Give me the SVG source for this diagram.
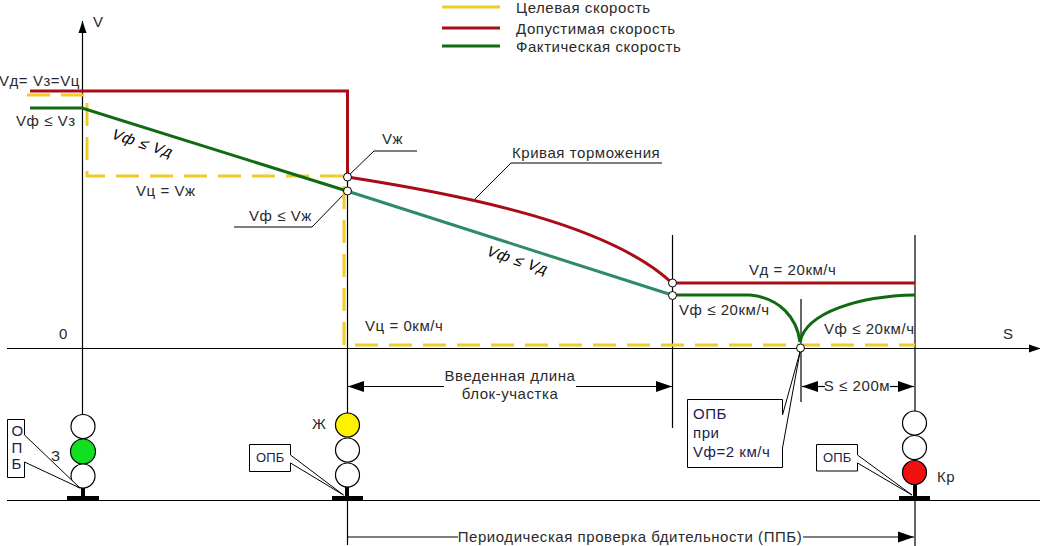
<svg xmlns="http://www.w3.org/2000/svg" width="1040" height="546" viewBox="0 0 1040 546">
<style>
text{font-family:"Liberation Sans",Arial,sans-serif;font-size:15px;letter-spacing:.55px;fill:#2a2a2a}
.b{fill:#1c1c50}
.sm{font-size:13px;letter-spacing:.2px}
.i{fill:#000;letter-spacing:.8px}
.l{fill:none;stroke:#000;stroke-width:1.2}
.t{fill:none;stroke:#000;stroke-width:1}
.red{fill:none;stroke:#a80d16;stroke-width:3}
.gr{fill:none;stroke:#0f6a12;stroke-width:3}
.teal{fill:none;stroke:#2f8a68;stroke-width:3}
.ye{fill:none;stroke:#f0cc28;stroke-width:3;stroke-dasharray:23 11}
.lamp{stroke:#000;stroke-width:1.2;fill:#fff}
.dot{stroke:#000;stroke-width:1;fill:#fff}
.box{stroke:#000;stroke-width:1;fill:#fff}
</style>
<defs>
<marker id="a" markerUnits="userSpaceOnUse" markerWidth="17" markerHeight="12" refX="16" refY="6" orient="auto"><path d="M0 .5L16 6L0 11.500Z" fill="#000"/></marker>
<marker id="s" markerUnits="userSpaceOnUse" markerWidth="13" markerHeight="10" refX="12" refY="5" orient="auto"><path d="M0 1L12 5L0 9Z" fill="#000"/></marker>
</defs>
<rect width="1040" height="546" fill="#fff"/>
<g id="connectors">
<path class="l" d="M82.500 414V21" marker-end="url(#s)"/>
<path class="l" d="M7 348.500H1041" marker-end="url(#s)"/>
<path class="l" d="M7 500.500H1040"/>
<path class="l" d="M347.500 177V414M347.500 500V545"/>
<path class="l" d="M672.500 235V428"/>
<path class="l" d="M915 235V411M915 500V546"/>
<path class="l" d="M801 299V402"/>
<path class="l" d="M444 386.500H348" marker-end="url(#a)"/>
<path class="l" d="M576 386.500H672" marker-end="url(#a)"/>
<path class="l" d="M825 386.500H802" marker-end="url(#a)"/>
<path class="l" d="M890 386.500H914" marker-end="url(#a)"/>
<path class="l" d="M347.500 537H458"/>
<path class="l" d="M803 537H914" marker-end="url(#a)"/>
<path class="t" d="M347 177L374 151H417"/>
<path class="t" d="M475 199L511 163H662"/>
<path class="t" d="M347 191L312 227H234"/>
<path class="ye" d="M27 95H87V176H344V345H915"/>
<path class="red" d="M30 91H347.500V177C470 196 610 225 672 283H915"/>
<path class="gr" d="M30 108H82L347 191"/>
<path class="teal" d="M347 191L672 295"/>
<path class="gr" d="M672 295H750C780 298 797 318 800 342C806 312 860 296 915 295"/>
</g>
<g id="legend">
<path d="M442 7H500" fill="none" stroke="#f0cc28" stroke-width="3"/>
<path d="M442 28H500" class="red"/>
<path d="M442 46H500" class="gr"/>
<text x="516" y="13">Целевая скорость</text>
<text x="516" y="34">Допустимая скорость</text>
<text x="516" y="52">Фактическая скорость</text>
</g>
<g id="markers">
<circle class="dot" cx="347.500" cy="177" r="4"/>
<circle class="dot" cx="347.500" cy="191" r="4"/>
<circle class="dot" cx="672.500" cy="283" r="4"/>
<circle class="dot" cx="672.500" cy="295.500" r="4"/>
<circle class="dot" cx="800.500" cy="348" r="4"/>
</g>
<g id="labels">
<text x="93" y="27">V</text>
<text x="59" y="339">0</text>
<text x="1003" y="339">S</text>
<text x="-1" y="86">Vд= Vз=Vц</text>
<text x="16" y="126">Vф ≤ Vз</text>
<text x="136" y="196">Vц = Vж</text>
<text class="i" transform="translate(110 138) rotate(18) skewX(-15)">Vф ≤ Vд</text>
<text class="i" transform="translate(485 255) rotate(18) skewX(-15)">Vф ≤ Vд</text>
<text x="382" y="144">Vж</text>
<text x="512" y="158">Кривая торможения</text>
<text x="249" y="221">Vф ≤ Vж</text>
<text x="365" y="331">Vц = 0км/ч</text>
<text x="749" y="275">Vд = 20км/ч</text>
<text x="679" y="315">Vф ≤ 20км/ч</text>
<text x="824" y="334">Vф ≤ 20км/ч</text>
<text x="510" y="381" text-anchor="middle">Введенная длина</text>
<text x="510" y="399" text-anchor="middle">блок-участка</text>
<text x="857" y="391" text-anchor="middle">S ≤ 200м</text>
<text x="630" y="542" text-anchor="middle">Периодическая проверка бдительности (ППБ)</text>
</g>
<g id="signal-z">
<rect x="81" y="486" width="4" height="11" fill="#000"/>
<rect x="67" y="496" width="32" height="4.500" fill="#000"/>
<circle class="lamp" cx="83" cy="426.500" r="12"/>
<circle class="lamp" cx="83" cy="451.500" r="12.500" style="fill:#10e020"/>
<circle class="lamp" cx="83" cy="476" r="12"/>
<text x="51" y="461">З</text>
</g>
<g id="signal-zh">
<rect x="345" y="486" width="4" height="11" fill="#000"/>
<rect x="332" y="496" width="31" height="4.500" fill="#000"/>
<circle class="lamp" cx="347.500" cy="425" r="12" style="fill:#fff200"/>
<circle class="lamp" cx="347.500" cy="450" r="12"/>
<circle class="lamp" cx="347.500" cy="475" r="12"/>
<text x="312" y="429">Ж</text>
</g>
<g id="signal-kr">
<rect x="913" y="484" width="4" height="13" fill="#000"/>
<rect x="899" y="496" width="31" height="4.500" fill="#000"/>
<circle class="lamp" cx="914.500" cy="423" r="12"/>
<circle class="lamp" cx="914.500" cy="447.500" r="12"/>
<circle class="lamp" cx="914.500" cy="472.500" r="12" style="fill:#f01010"/>
<text x="937" y="482">Кр</text>
</g>
<g id="opb-left">
<path class="box" d="M7.500 419.500H24.500V435L80 488L24.500 462V477.500H7.500Z"/>
<text class="b" x="11.500" y="436">О</text>
<text class="b" x="11.500" y="453">П</text>
<text class="b" x="11.500" y="469">Б</text>
</g>
<g id="opb-mid">
<path class="box" d="M249.500 444.500H290.500V455L343.500 495L290.500 463V471.500H249.500Z"/>
<text class="b sm" x="256" y="462">ОПБ</text>
</g>
<g id="opb-right">
<path class="box" d="M816.500 444.500H857.500V455L912 495L857.500 463V471H816.500Z"/>
<text class="b sm" x="823" y="462">ОПБ</text>
</g>
<g id="opb-speed">
<path class="box" d="M687.500 399.500H782.500V415L800 352L782.500 448V467.500H687.500Z"/>
<text class="b" x="693" y="419">ОПБ</text>
<text class="b" x="693" y="438">при</text>
<text class="b" x="693" y="457">Vф=2 км/ч</text>
</g>
</svg>
